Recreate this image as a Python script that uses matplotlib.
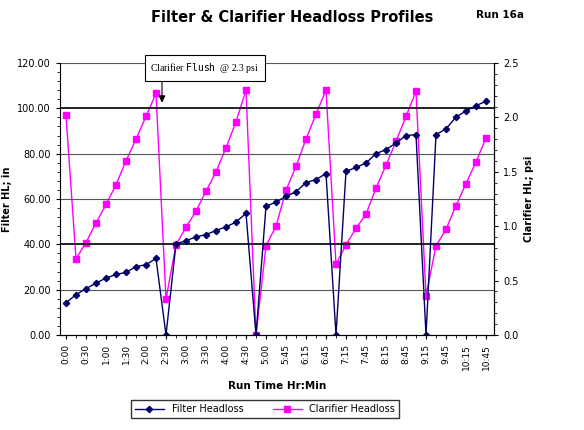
import matplotlib
matplotlib.use("Agg")
import matplotlib.pyplot as plt
from matplotlib.ticker import MultipleLocator

labels_even = ["0:00","0:30","1:00","1:30","2:00","2:30","3:00","3:30","4:00","4:30","5:00",
               "5:45","6:15","6:45","7:15","7:45","8:15","8:45","9:15","9:45","10:15","10:45"]
filter_hl = [14.2,17.8,20.4,22.9,25.1,26.7,27.6,30.2,31.0,33.8,0,40.2,41.6,43.3,44.3,46.1,47.7,49.8,53.7,0,
             56.8,58.6,61.2,63.2,67.2,68.6,71.2,0,72.2,73.9,75.9,80.0,81.8,84.7,88.0,88.4,0,88.4,90.9,96.2,98.8,101.2,103.1]
clar_hl = [2.02,0.70,0.85,1.03,1.20,1.38,1.60,1.80,2.01,2.22,0.33,0.83,0.99,1.14,1.32,1.50,1.72,1.96,2.25,0,
           0.82,1.00,1.33,1.55,1.80,2.03,2.25,0.65,0.83,0.98,1.11,1.35,1.56,1.78,2.01,2.24,0.36,0.82,0.97,1.19,1.39,1.59,1.81]

x = list(range(len(filter_hl)))
fig = plt.figure(figsize=(5.84, 4.30), dpi=100)
ax = fig.add_axes([60/584, 1-335/430, 434/584, 272/430])
ax2 = ax.twinx()

for v in [20, 60, 80, 120]:
    ax.axhline(v, color="#555555", lw=0.8, zorder=0)
for v in [40, 100]:
    ax.axhline(v, color="#222222", lw=1.4, zorder=0)

l1, = ax.plot(x, filter_hl, color="#000066", marker="D", ms=3.2, lw=1, label="Filter Headloss")
l2, = ax2.plot(x, clar_hl, color="#ff00ff", marker="s", ms=4.2, lw=1, label="Clarifier Headloss")
ax.set_zorder(ax2.get_zorder()+1); ax.patch.set_visible(False)

ax.set_xlim(-0.6, 42.8)
ax.set_ylim(0, 120)
ax2.set_ylim(0, 2.5)
ax.set_xticks(range(0, 43, 2))
ax.set_xticklabels(labels_even, rotation=90, fontsize=6.5)
ax.set_xticks(range(0, 43), minor=True)
ax.yaxis.set_minor_locator(MultipleLocator(4))
ax.set_yticks(range(0, 121, 20))
ax.set_yticklabels([f"{v:.2f}" for v in range(0, 121, 20)], fontsize=7)
ax2.yaxis.set_minor_locator(MultipleLocator(0.1))
ax2.set_yticks([0, 0.5, 1.0, 1.5, 2.0, 2.5])
ax2.set_yticklabels(["0.0","0.5","1.0","1.5","2.0","2.5"], fontsize=7)
for a in (ax, ax2):
    a.tick_params(direction="out", length=3)
    a.tick_params(which="minor", length=2)
    a.spines["top"].set_visible(False)
ax2.spines["left"].set_visible(False)

ax.set_ylabel("Filter HL; in", fontsize=7, fontweight="bold")
ax2.set_ylabel("Clarifier HL; psi", fontsize=7, fontweight="bold")
ax.set_xlabel("Run Time Hr:Min", fontsize=7.5, fontweight="bold", labelpad=8)

fig.text(0.5, 1-17/430, "Filter & Clarifier Headloss Profiles", ha="center", va="center",
         fontsize=10.5, fontweight="bold")
fig.text(500/584, 1-15/430, "Run 16a", ha="center", va="center", fontsize=7.5, fontweight="bold")

ax.annotate("", xy=(9.6, 102.5), xytext=(9.6, 114.5), xycoords="data",
            arrowprops=dict(arrowstyle="-|>", color="black", lw=0.8, shrinkA=0, shrinkB=0),
            annotation_clip=False)
fig.text(205/584, 1-68/430, "Clarifier $\\mathtt{Flush}$  @ 2.3 psi", ha="center", va="center",
         fontsize=7, family="Liberation Serif",
         bbox=dict(boxstyle="square,pad=0.6", fc="white", ec="black", lw=0.8))

fig.legend(handles=[l1, l2], loc="center", bbox_to_anchor=(265/584, 1-409/430), ncol=2,
           fontsize=7, frameon=True, fancybox=False, edgecolor="black", handlelength=3,
           columnspacing=3)
fig.savefig("out.png", dpi=100)
